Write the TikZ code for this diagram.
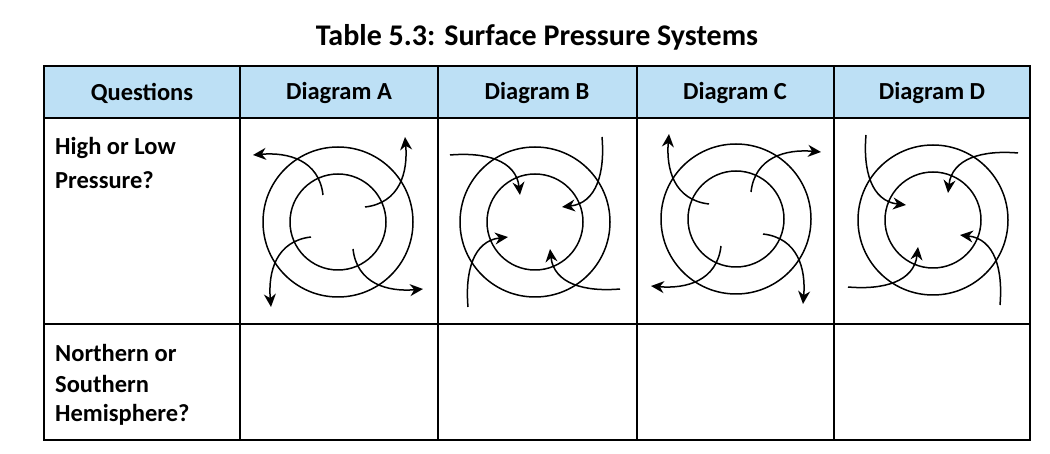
\documentclass[tikz,border=0pt]{standalone}
\usepackage{fontspec}
\setmainfont{Carlito}
\usetikzlibrary{arrows.meta}
\definecolor{hdr}{HTML}{BDE0F5}
\tikzset{
  grid/.style={line width=1.6pt,draw=black},
  ring/.style={line width=1.5pt},
  wind/.style={line width=1.5pt,-{Stealth[length=13pt,width=12pt]}},
  windin/.style={line width=1.5pt,{Stealth[length=13pt,width=12pt]}-},
  txt/.style={font=\bfseries\fontsize{24.5}{28}\selectfont,anchor=west,inner sep=0pt},
  hd/.style={font=\bfseries\fontsize{24.5}{28}\selectfont,inner sep=0pt}
}
\newcommand{\pressys}[3]{% center, xscale, style
  \begin{scope}[shift={#1},xscale=#2]
    \node[circle,draw,ring,minimum size=150pt,inner sep=0pt] (o) at (0,0) {};
    \node[circle,draw,ring,minimum size=96pt,inner sep=0pt] (i) at (0,0) {};
    \foreach \r in {0,90,180,270}{
      \draw[#3,rotate=\r] (-15,-27) .. controls (-19,-62) and (-50,-70) .. (-85,-67);
    }
  \end{scope}}
\begin{document}
\begin{tikzpicture}[x=1pt,y=-1pt]
\useasboundingbox (0,0) rectangle (1050,454);
\node[font=\bfseries\fontsize{30}{34}\selectfont] (title) at (537,37) {Table 5.3: Surface Pressure Systems};
\fill[hdr] (44,66) rectangle (1030,118);
\draw[grid] (44,66) rectangle (1030,440);
\draw[grid] (44,118) -- (1030,118);
\draw[grid] (44,324) -- (1030,324);
\foreach \x in {240,438,637,834}{\draw[grid] (\x,66) -- (\x,440);}
\node[hd] (h0) at (142,93) {Questions};
\node[hd] (h1) at (339,93) {Diagram A};
\node[hd] (h2) at (537,93) {Diagram B};
\node[hd] (h3) at (735,93) {Diagram C};
\node[hd] (h4) at (932,93) {Diagram D};
\node[txt] (q1a) at (55,148) {High or Low};
\node[txt] (q1b) at (55,180) {Pressure?};
\node[txt] (q2a) at (55,353) {Northern or};
\node[txt] (q2b) at (55,384) {Southern};
\node[txt] (q2c) at (55,415) {Hemisphere?};
\pressys{(338,222)}{1}{wind}
\pressys{(535,222)}{1}{windin}
\pressys{(736,219)}{-1}{wind}
\pressys{(933,220)}{-1}{windin}
\end{tikzpicture}
\end{document}
